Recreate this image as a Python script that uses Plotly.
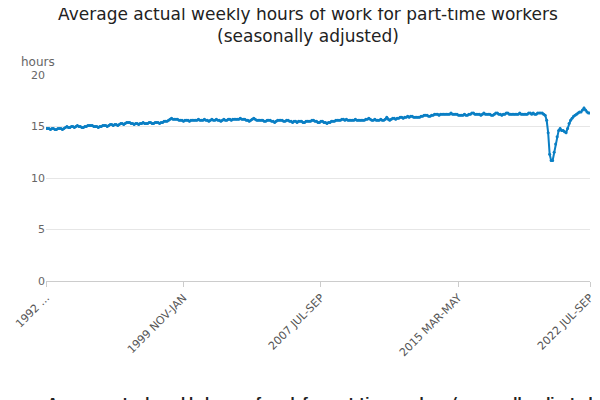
import plotly.graph_objects as go

months = ["JAN", "FEB", "MAR", "APR", "MAY", "JUN", "JUL", "AUG", "SEP", "OCT", "NOV", "DEC"]

hours_by_year = {
    1992: [14.8, 14.8, 14.8, 14.7, 14.8, 14.8, 14.7, 14.7, 14.8, 14.8],
    1993: [14.8, 14.7, 14.8, 14.9, 15.0, 14.9, 14.9, 15.0, 15.0, 14.9, 15.0, 15.1],
    1994: [15.0, 15.0, 14.9, 14.9, 15.0, 15.0, 15.1, 15.1, 15.1, 15.1, 15.0, 15.0],
    1995: [15.0, 14.9, 15.0, 15.0, 15.1, 15.1, 15.1, 15.0, 15.1, 15.2, 15.2, 15.1],
    1996: [15.2, 15.2, 15.1, 15.2, 15.3, 15.3, 15.2, 15.3, 15.4, 15.4, 15.4, 15.3],
    1997: [15.3, 15.2, 15.3, 15.3, 15.2, 15.3, 15.3, 15.4, 15.3, 15.3, 15.3, 15.4],
    1998: [15.4, 15.3, 15.3, 15.4, 15.4, 15.4, 15.3, 15.4, 15.4, 15.5, 15.5, 15.5],
    1999: [15.6, 15.7, 15.8, 15.7, 15.7, 15.7, 15.7, 15.6, 15.6, 15.6, 15.5, 15.6],
    2000: [15.6, 15.6, 15.5, 15.6, 15.6, 15.6, 15.6, 15.6, 15.7, 15.6, 15.6, 15.6],
    2001: [15.7, 15.6, 15.6, 15.5, 15.6, 15.7, 15.6, 15.6, 15.7, 15.6, 15.6, 15.5],
    2002: [15.6, 15.7, 15.6, 15.6, 15.7, 15.7, 15.6, 15.7, 15.7, 15.7, 15.7, 15.7],
    2003: [15.8, 15.7, 15.7, 15.7, 15.6, 15.6, 15.5, 15.6, 15.7, 15.8, 15.7, 15.6],
    2004: [15.6, 15.6, 15.6, 15.6, 15.5, 15.5, 15.6, 15.6, 15.6, 15.5, 15.5, 15.4],
    2005: [15.5, 15.6, 15.6, 15.6, 15.6, 15.5, 15.5, 15.6, 15.6, 15.5, 15.5, 15.4],
    2006: [15.5, 15.5, 15.4, 15.5, 15.5, 15.5, 15.4, 15.4, 15.5, 15.5, 15.5, 15.5],
    2007: [15.6, 15.6, 15.5, 15.5, 15.4, 15.4, 15.5, 15.5, 15.4, 15.4, 15.3, 15.4],
    2008: [15.4, 15.5, 15.5, 15.5, 15.6, 15.6, 15.6, 15.6, 15.7, 15.7, 15.6, 15.7],
    2009: [15.6, 15.6, 15.6, 15.6, 15.6, 15.7, 15.6, 15.6, 15.6, 15.6, 15.6, 15.6],
    2010: [15.7, 15.7, 15.8, 15.7, 15.6, 15.6, 15.7, 15.6, 15.6, 15.6, 15.7, 15.6],
    2011: [15.6, 15.7, 15.9, 15.7, 15.6, 15.7, 15.8, 15.8, 15.7, 15.8, 15.8, 15.9],
    2012: [15.9, 15.8, 15.9, 15.9, 16.0, 15.9, 16.0, 16.0, 15.9, 15.9, 15.9, 15.9],
    2013: [15.9, 16.0, 16.0, 16.1, 16.1, 16.1, 16.0, 16.0, 16.1, 16.1, 16.2, 16.2],
    2014: [16.2, 16.1, 16.2, 16.2, 16.2, 16.2, 16.2, 16.2, 16.2, 16.3, 16.2, 16.2],
    2015: [16.2, 16.2, 16.1, 16.1, 16.1, 16.1, 16.2, 16.1, 16.1, 16.2, 16.2, 16.3],
    2016: [16.3, 16.2, 16.2, 16.2, 16.2, 16.1, 16.2, 16.3, 16.2, 16.2, 16.2, 16.2],
    2017: [16.1, 16.1, 16.2, 16.3, 16.3, 16.2, 16.2, 16.1, 16.2, 16.2, 16.3, 16.3],
    2018: [16.2, 16.2, 16.2, 16.2, 16.2, 16.2, 16.2, 16.3, 16.2, 16.2, 16.2, 16.2],
    2019: [16.2, 16.3, 16.3, 16.2, 16.3, 16.2, 16.2, 16.3, 16.3, 16.3, 16.3, 16.2],
    2020: [16.1, 15.6, 14.4, 12.3, 11.7, 11.7, 12.5, 13.3, 14.0, 14.6, 14.8, 14.6],
    2021: [14.6, 14.5, 14.4, 14.8, 15.3, 15.6, 15.8, 16.0, 16.1, 16.2, 16.3, 16.4],
    2022: [16.4, 16.6, 16.8, 16.6, 16.4, 16.3, 16.3],
}

tick_cats = ["1992 MAR-MAY", "1999 NOV-JAN", "2007 JUL-SEP", "2015 MAR-MAY", "2022 JUL-SEP"]
tick_text = ["1992 ...", "1999 NOV-JAN", "2007 JUL-SEP", "2015 MAR-MAY", "2022 JUL-SEP"]

# build rolling-quarter labels
cats, vals = [], []
for year, ys in hours_by_year.items():
    start = 2 if year == 1992 else 0
    for k, v in enumerate(ys):
        m = start + k
        cats.append(f"{year} {months[m]}-{months[(m + 2) % 12]}")
        vals.append(v)

blue = "#0a7fc4"
name = "<b>Average actual weekly hours of work for part-time workers (seasonally adjusted)</b>"

fig = go.Figure()
fig.add_trace(go.Scatter(x=cats, y=vals, mode="lines+markers", name=name,
                         line=dict(color=blue, width=2), marker=dict(size=3, color=blue)))

fig.update_layout(
    width=600, height=400, font=dict(family="DejaVu Sans", color="#333"),
    title=dict(text="Average actual weekly hours of work for part-time workers<br>(seasonally adjusted)",
               x=0.5, xanchor="center", y=0.97, yanchor="top", font=dict(size=17, color="#222")),
    margin=dict(l=38, r=18, t=67, b=127, autoexpand=False),
    plot_bgcolor="white", paper_bgcolor="white",
    showlegend=True,
    legend=dict(orientation="h", x=-0.07, xanchor="left", y=-0.52, yanchor="top",
                font=dict(size=12, color="#222"), itemwidth=30),
)
fig.update_xaxes(type="category", tickvals=tick_cats, ticktext=tick_text, tickangle=-45,
                 range=[0, len(cats) - 1], automargin=False,
                 showgrid=False, showline=True, linecolor="#ccc", ticks="outside", tickcolor="#ccc",
                 tickfont=dict(size=11, color="#555"))
fig.update_yaxes(range=[0, 20], dtick=5, gridcolor="#e6e6e6", zeroline=False, automargin=False,
                 tickfont=dict(size=11, color="#666"))
fig.add_annotation(text="hours", xref="paper", yref="paper", x=-0.05, y=1.02, xanchor="left",
                   yanchor="bottom", showarrow=False, font=dict(size=12, color="#666"))
fig.add_annotation(text="Source:", xref="paper", yref="paper", x=1.0, y=-0.66, xanchor="right",
                   yanchor="top", showarrow=False, font=dict(size=12, color="#555"))

fig.write_html("out.html")
